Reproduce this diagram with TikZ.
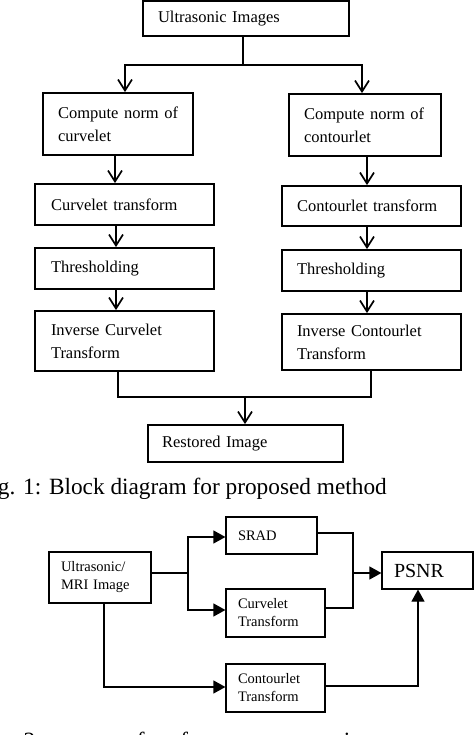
\documentclass[tikz,border=0pt]{standalone}
\usepackage{fontspec}
\setmainfont{Liberation Serif}
\usetikzlibrary{arrows.meta}
\tikzset{
  tb/.style={draw, line width=1.8pt, rectangle, align=left, inner xsep=15pt, inner ysep=0pt, font=\fontsize{16.5}{23}\selectfont},
  bb/.style={draw, line width=1.2pt, rectangle, align=left, inner xsep=12pt, inner ysep=0pt, font=\fontsize{14.5}{18}\selectfont},
  ln/.style={line width=1.7pt},
  arr/.style={line width=1.7pt, -{Straight Barb[length=11pt,width=14pt,line width=1.7pt]}},
  ln2/.style={line width=1.2pt},
  arr2/.style={line width=1.2pt, -{Triangle[length=12pt,width=13pt]}},
  captxt/.style={font=\fontsize{23.3}{27}\selectfont, inner sep=0pt}
}
\begin{document}
\begin{tikzpicture}[x=1pt,y=-1pt]
\useasboundingbox (0,0) rectangle (474,735);
% ---------- Fig 1 ----------
\node[tb, text width=176pt, minimum height=35pt] (A) at (246,18.5) {\mbox{Ultrasonic Images}};
\node[tb, text width=120pt, minimum height=62pt] (B1) at (118,124) {\mbox{Compute norm of}\\curvelet};
\node[tb, text width=122pt, minimum height=62pt] (B2) at (365,125) {\mbox{Compute norm of}\\contourlet};
\node[tb, text width=147pt, inner xsep=16pt, minimum height=41pt] (C1) at (124.5,204.5) {\mbox{Curvelet transform}};
\node[tb, text width=149pt, minimum height=40pt] (C2) at (371.5,206) {\mbox{Contourlet transform}};
\node[tb, text width=147pt, inner xsep=16pt, minimum height=41pt] (D1) at (124.5,268.5) {Thresholding};
\node[tb, text width=149pt, minimum height=41pt] (D2) at (371.5,270.5) {Thresholding};
\node[tb, text width=147pt, inner xsep=16pt, minimum height=60pt] (E1) at (124.5,341) {\mbox{Inverse Curvelet}\\Transform};
\node[tb, text width=149pt, minimum height=56pt] (E2) at (371.5,342) {\mbox{Inverse Contourlet}\\Transform};
\node[tb, text width=167pt, inner xsep=14pt, minimum height=37pt] (F) at (245.5,443.5) {\mbox{Restored Image}};

\coordinate (j1) at (243,65);
\draw[ln] (A.south -| j1) -- (j1);
\draw[arr] (j1) -| (B1.north -| 125,0);
\draw[arr] (j1) -| (B2.north -| 362,0);
\draw[arr] (B1.south -| 115,0) -- (C1.north -| 115,0);
\draw[arr] (C1.south -| 116,0) -- (D1.north -| 116,0);
\draw[arr] (D1.south -| 116,0) -- (E1.north -| 116,0);
\draw[arr] (B2.south -| 367,0) -- (C2.north -| 367,0);
\draw[arr] (C2.south -| 367,0) -- (D2.north -| 367,0);
\draw[arr] (D2.south -| 367,0) -- (E2.north -| 367,0);
\coordinate (j2) at (245,397);
\draw[ln] (E1.south -| 118,0) |- (j2) -| (E2.south -| 371,0);
\draw[arr] (j2) -- (F.north -| j2);

\node[captxt, anchor=base east] (cap1) at (387,494) {Fig. 1: Block diagram for proposed method};

% ---------- Fig 2 ----------
\node[bb, text width=78pt, minimum height=51pt] (U) at (100,577.5) {\mbox{Ultrasonic/}\\\mbox{MRI Image}};
\node[bb, text width=67pt, minimum height=37pt] (S) at (271.5,535.5) {SRAD};
\node[bb, text width=75pt, minimum height=48pt] (CV) at (275.5,613) {Curvelet\\Transform};
\node[bb, text width=75pt, minimum height=48pt] (CT) at (275.5,688) {Contourlet\\Transform};
\node[bb, text width=67pt, minimum height=37pt, font=\fontsize{20}{24}\selectfont] (P) at (427.5,570.5) {PSNR};

\coordinate (j3) at (188,573);
\draw[ln2] (U.east |- j3) -- (j3);
\draw[arr2] (j3) |- (S.west |- 0,537);
\draw[arr2] (j3) |- (CV.west |- 0,610);
\draw[arr2] (U.south -| 104,0) |- (CT.west |- 0,687);
\coordinate (j4) at (353,573);
\draw[ln2] (S.east |- 0,533) -| (j4);
\draw[ln2] (CV.east |- 0,608) -| (j4);
\draw[arr2] (j4) -- (P.west |- j4);
\draw[arr2] (CT.east |- 0,686) -| (P.south -| 418,0);

\node[captxt, anchor=base east] (cap2) at (383,748) {Fig. 2: process of performance comparison};
\end{tikzpicture}
\end{document}
